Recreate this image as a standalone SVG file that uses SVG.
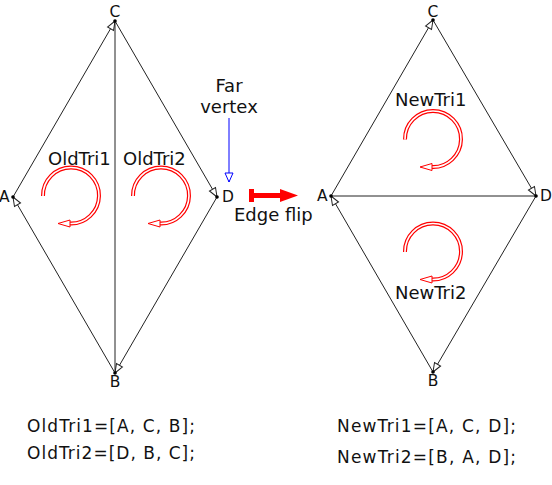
<svg xmlns="http://www.w3.org/2000/svg" xmlns:xlink="http://www.w3.org/1999/xlink" width="552" height="485" viewBox="0 0 552 485">
<style>
text{font-family:"DejaVu Sans","Verdana",sans-serif;fill:#111;}
.v{font-size:15.5px;}
.lbl{font-size:18px;}
.eq{font-size:17px;}
.edge{stroke:#222;stroke-width:1;fill:none;}
.dir{marker-end:url(#ah);}
.dot{fill:#000;}
.rotout{fill:none;stroke:#f00;stroke-width:4;}
.rotin{fill:none;stroke:#fff;stroke-width:1.6;}
.rothead{fill:#fff;stroke:#f00;stroke-width:1;}
</style>
<defs>
<marker id="ah" markerUnits="userSpaceOnUse" markerWidth="14" markerHeight="14" refX="10" refY="7" orient="auto" viewBox="0 0 14 14">
<path d="M1,3.5 L10,7 L1,10.5 Z" fill="#fff" stroke="#222" stroke-width="1"/>
</marker>
<marker id="ahb" markerUnits="userSpaceOnUse" markerWidth="14" markerHeight="14" refX="10" refY="7" orient="auto" viewBox="0 0 14 14">
<path d="M1,3 L10,7 L1,11 Z" fill="#fff" stroke="#00f" stroke-width="1"/>
</marker>
<g id="rot">
<path class="rotout" d="M-28,0 A28,28 0 1 1 -1,27.5"/>
<path class="rotin" d="M-28,0 A28,28 0 1 1 -1,27.5"/>
<polygon class="rothead" points="-13,27.5 -1,24 -1,31"/>
</g>
</defs>

<g id="connectors">
<line class="edge dir" x1="13" y1="197" x2="115" y2="21"/>
<line class="edge dir" x1="115" y1="21" x2="217" y2="197"/>
<line class="edge dir" x1="217" y1="197" x2="115" y2="373"/>
<line class="edge dir" x1="115" y1="373" x2="13" y2="197"/>
<line class="edge" x1="115" y1="21" x2="115" y2="373" stroke-width="1.3"/>
<line class="edge dir" x1="331" y1="196" x2="433" y2="20"/>
<line class="edge dir" x1="433" y1="20" x2="536" y2="196"/>
<line class="edge dir" x1="536" y1="196" x2="433" y2="372"/>
<line class="edge dir" x1="433" y1="372" x2="331" y2="196"/>
<line class="edge" x1="331" y1="196" x2="536" y2="196" stroke-width="1.3"/>
<line x1="229" y1="118" x2="229" y2="182" stroke="#00f" stroke-width="1" marker-end="url(#ahb)"/>
</g>

<g id="old-C"><circle class="dot" cx="115" cy="21" r="1.8"/><text class="v" x="115" y="17" text-anchor="middle">C</text></g>
<g id="old-A"><circle class="dot" cx="13" cy="197" r="1.8"/><text class="v" x="-1" y="202">A</text></g>
<g id="old-D"><circle class="dot" cx="217" cy="197" r="1.8"/><text class="v" x="222" y="202">D</text></g>
<g id="old-B"><circle class="dot" cx="115" cy="373" r="1.8"/><text class="v" x="115" y="387" text-anchor="middle">B</text></g>

<g id="new-C"><circle class="dot" cx="433" cy="20" r="1.8"/><text class="v" x="433" y="17" text-anchor="middle">C</text></g>
<g id="new-A"><circle class="dot" cx="331" cy="196" r="1.8"/><text class="v" x="317" y="201">A</text></g>
<g id="new-D"><circle class="dot" cx="536" cy="196" r="1.8"/><text class="v" x="540" y="201">D</text></g>
<g id="new-B"><circle class="dot" cx="433" cy="372" r="1.8"/><text class="v" x="433" y="386" text-anchor="middle">B</text></g>

<g id="oldtri1"><text class="lbl" x="48" y="165">OldTri1</text><use xlink:href="#rot" href="#rot" x="71" y="196"/></g>
<g id="oldtri2"><text class="lbl" x="123" y="165">OldTri2</text><use xlink:href="#rot" href="#rot" x="161" y="196"/></g>
<g id="newtri1"><text class="lbl" x="395" y="106">NewTri1</text><use xlink:href="#rot" href="#rot" x="433" y="139.5"/></g>
<g id="newtri2"><text class="lbl" x="395" y="299">NewTri2</text><use xlink:href="#rot" href="#rot" x="433" y="252"/></g>

<g id="far-vertex"><text class="lbl" x="229" y="92" text-anchor="middle">Far</text><text class="lbl" x="229" y="113" text-anchor="middle">vertex</text></g>

<g id="edge-flip">
<rect x="249" y="189" width="5" height="13" fill="#f00"/>
<rect x="253" y="193" width="28" height="5" fill="#f00"/>
<polygon points="280,189 298,195.5 280,202" fill="#f00"/>
<text class="lbl" x="234" y="221">Edge flip</text>
</g>

<g id="equations">
<text class="eq" x="27" y="432" textLength="168" lengthAdjust="spacing">OldTri1=[A, C, B];</text>
<text class="eq" x="27" y="459" textLength="168" lengthAdjust="spacing">OldTri2=[D, B, C];</text>
<text class="eq" x="337" y="432" textLength="179" lengthAdjust="spacing">NewTri1=[A, C, D];</text>
<text class="eq" x="337" y="463" textLength="179" lengthAdjust="spacing">NewTri2=[B, A, D];</text>
</g>
</svg>
